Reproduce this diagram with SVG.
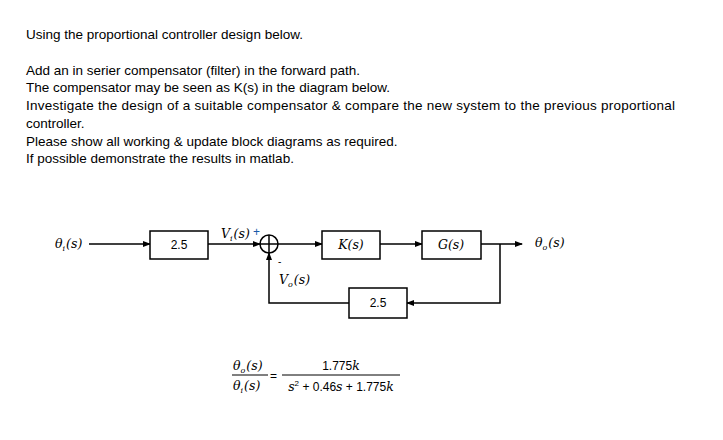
<svg xmlns="http://www.w3.org/2000/svg" width="723" height="440" viewBox="0 0 723 440">
<style>
.t{font-family:"Liberation Sans",Arial,sans-serif;font-size:13.5px;fill:#000}
.m{font-family:"DejaVu Serif","Liberation Serif",serif;font-style:italic;font-size:12.5px;fill:#000}
.n{font-family:"Liberation Sans",Arial,sans-serif;font-size:12px;fill:#000}
.b{fill:#fff;stroke:#000;stroke-width:1.5}
.l{fill:none;stroke:#000;stroke-width:1.5}
</style>
<defs><marker id="a" markerWidth="8" markerHeight="8" refX="7" refY="4" orient="auto" markerUnits="userSpaceOnUse"><path d="M0,1 L8,4 L0,7z" fill="#000"/></marker></defs>
<rect width="723" height="440" fill="#fff"/>
<g class="t">
<text x="26" y="39">Using the proportional controller design below.</text>
<text x="26" y="75">Add an in serier compensator (filter) in the forward path.</text>
<text x="26" y="92">The compensator may be seen as K(s) in the diagram below.</text>
<text x="26" y="110" textLength="649">Investigate the design of a suitable compensator &amp; compare the new system to the previous proportional</text>
<text x="26" y="128">controller.</text>
<text x="26" y="146">Please show all working &amp; update block diagrams as required.</text>
<text x="26" y="163">If possible demonstrate the results in matlab.</text>
</g>
<g id="connectors">
<line class="l" x1="89" y1="244" x2="150" y2="244" marker-end="url(#a)"/>
<line class="l" x1="208" y1="244" x2="260" y2="244" marker-end="url(#a)"/>
<line class="l" x1="278" y1="244" x2="322" y2="244" marker-end="url(#a)"/>
<line class="l" x1="380" y1="244" x2="422" y2="244" marker-end="url(#a)"/>
<line class="l" x1="481" y1="244" x2="522" y2="244" marker-end="url(#a)"/>
<polyline class="l" points="500,244 500,303 407,303" marker-end="url(#a)"/>
<polyline class="l" points="349,303 269,303 269,253" marker-end="url(#a)"/>
</g>
<g id="in"><text class="m" x="55" y="248">θ<tspan font-size="8" dy="3">i</tspan><tspan dy="-3" dx="1">(s)</tspan></text></g>
<g id="k1"><rect class="b" x="150" y="231" width="58" height="28"/><text class="n" x="179" y="249" text-anchor="middle">2.5</text></g>
<g id="sum"><circle class="l" cx="269" cy="244" r="9"/><line class="l" x1="260" y1="244" x2="278" y2="244"/><line class="l" x1="269" y1="235" x2="269" y2="253"/>
<text class="m" x="221" y="238">V<tspan font-size="8" dy="3">i</tspan><tspan dy="-3" dx="1">(s)</tspan></text><text x="253" y="236" font-family="Liberation Sans,sans-serif" font-size="12" fill="#1a5aa8">+</text>
<text x="278" y="265" font-family="Liberation Sans,sans-serif" font-size="10">-</text>
<text class="m" x="279" y="284">V<tspan font-size="8" dy="3">o</tspan><tspan dy="-3" dx="1">(s)</tspan></text></g>
<g id="K"><rect class="b" x="322" y="231" width="58" height="28"/><text class="m" x="351" y="249" text-anchor="middle">K(s)</text></g>
<g id="G"><rect class="b" x="422" y="231" width="59" height="28"/><text class="m" x="451" y="249" text-anchor="middle">G(s)</text></g>
<g id="out"><text class="m" x="535" y="247">θ<tspan font-size="8" dy="3">o</tspan><tspan dy="-3" dx="1">(s)</tspan></text></g>
<g id="k2"><rect class="b" x="349" y="288" width="58" height="30"/><text class="n" x="378" y="307" text-anchor="middle">2.5</text></g>
<g id="eq">
<text class="m" x="233" y="370">θ<tspan font-size="8" dy="3">o</tspan><tspan dy="-3" dx="1">(s)</tspan></text>
<line x1="232" y1="375" x2="268" y2="375" stroke="#000"/>
<text class="m" x="233" y="390">θ<tspan font-size="8" dy="3">i</tspan><tspan dy="-3" dx="1">(s)</tspan></text>
<text class="n" x="270" y="380">=</text>
<text class="n" x="341" y="370" text-anchor="middle">1.775<tspan class="m">k</tspan></text>
<line x1="282" y1="375" x2="400" y2="375" stroke="#000"/>
<text class="n" x="341" y="391" text-anchor="middle"><tspan class="m">s</tspan><tspan font-size="8" dy="-5">2</tspan><tspan dy="5"> + 0.46</tspan><tspan class="m">s</tspan> + 1.775<tspan class="m">k</tspan></text>
</g>
</svg>
